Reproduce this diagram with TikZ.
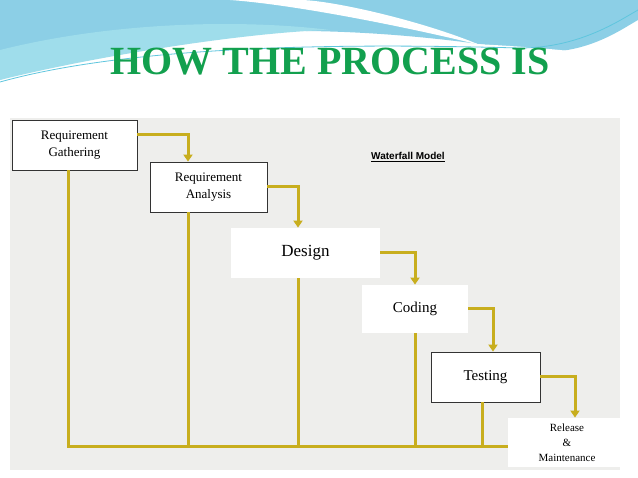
\documentclass[tikz,border=0pt]{standalone}
\usepackage{fontspec}
\setmainfont{Liberation Serif}
\newfontfamily\sansf{Liberation Sans}
\usetikzlibrary{arrows.meta}
\definecolor{flow}{HTML}{C8AE1E}
\definecolor{panel}{HTML}{EEEEEC}
\definecolor{ttl}{HTML}{12A04E}
\definecolor{sky}{HTML}{8CCFE6}
\definecolor{sky2}{HTML}{5FC6DE}
\tikzset{
 stepbox/.style={draw=black!80, line width=0.8pt, fill=white, inner sep=0pt, font=\fontsize{13}{17}\selectfont, align=center},
 flowline/.style={flow, line width=3pt},
 flowarrow/.style={flowline, -{Triangle[length=7pt,width=9pt]}},
}
\begin{document}
\begin{tikzpicture}[x=1pt,y=-1pt]
\useasboundingbox (0,0) rectangle (638,478);
\fill[white] (0,0) rectangle (638,478);
% sky swoosh
\fill[sky] (0,0) -- (0,80) .. controls (120,30) and (300,15) .. (520,50) .. controls (580,60) and (620,30) .. (638,20) -- (638,0) -- cycle;
\fill[sky2!60] (0,50) .. controls (120,20) and (250,20) .. (330,30) .. controls (250,32) and (100,55) .. (0,80) -- cycle;
\fill[white] (0,85) .. controls (150,35) and (400,35) .. (560,50) .. controls (600,55) and (620,45) .. (638,30) -- (638,478) -- (0,478) -- cycle;
\fill[white] (230,0) .. controls (300,5) and (420,30) .. (480,45) .. controls (420,20) and (330,0) .. (300,0) -- cycle;
\draw[sky2, line width=0.8pt] (0,82) .. controls (150,40) and (400,45) .. (520,48) .. controls (580,48) and (620,20) .. (638,10);
\node[font=\bfseries\fontsize{40}{40}\selectfont, text=ttl] (title) at (330,62) {HOW THE PROCESS IS};
% panel
\fill[panel] (10,118) rectangle (620,470);
\node[font=\sansf\bfseries\fontsize{10}{10}\selectfont] (wm) at (408,157) {\underline{Waterfall Model}};
% boxes
\node[stepbox, minimum width=125, minimum height=50] (rg) at (74.5,145) {Requirement\\Gathering};
\node[stepbox, minimum width=117, minimum height=50] (ra) at (208.5,187) {Requirement\\Analysis};
\node[stepbox, draw=none, minimum width=149, minimum height=50, font=\fontsize{17}{17}\selectfont] (de) at (305.5,253) {Design};
\node[stepbox, draw=none, minimum width=106, minimum height=48, font=\fontsize{15}{15}\selectfont] (co) at (415,309) {Coding};
\node[stepbox, minimum width=109, minimum height=50, font=\fontsize{15}{15}\selectfont] (te) at (485.5,377) {Testing};
\node[stepbox, draw=none, minimum width=118, minimum height=49, font=\fontsize{11}{15}\selectfont] (rm) at (567,442.5) {Release\\\&\\Maintenance};
% forward arrows
\draw[flowarrow] (rg.east |- 0,135) -| (ra.north -| 188,0);
\draw[flowarrow] (ra.east) -| (de.north -| 298,0);
\draw[flowarrow] (de.east) -| (co.north);
\draw[flowarrow] (co.east) -| (te.north -| 493,0);
\draw[flowarrow] (te.east) -| (rm.north -| 575,0);
% feedback lines
\coordinate (b) at (68,447);
\draw[flowline] (rg.south -| 68,0) -- (b) -- (rm.west |- b);
\draw[flowline] (ra.south -| 188,0) -- (188,447);
\draw[flowline] (de.south -| 298,0) -- (298,447);
\draw[flowline] (co.south) -- (415,447);
\draw[flowline] (te.south -| 482,0) -- (482,447);
\end{tikzpicture}
\end{document}
